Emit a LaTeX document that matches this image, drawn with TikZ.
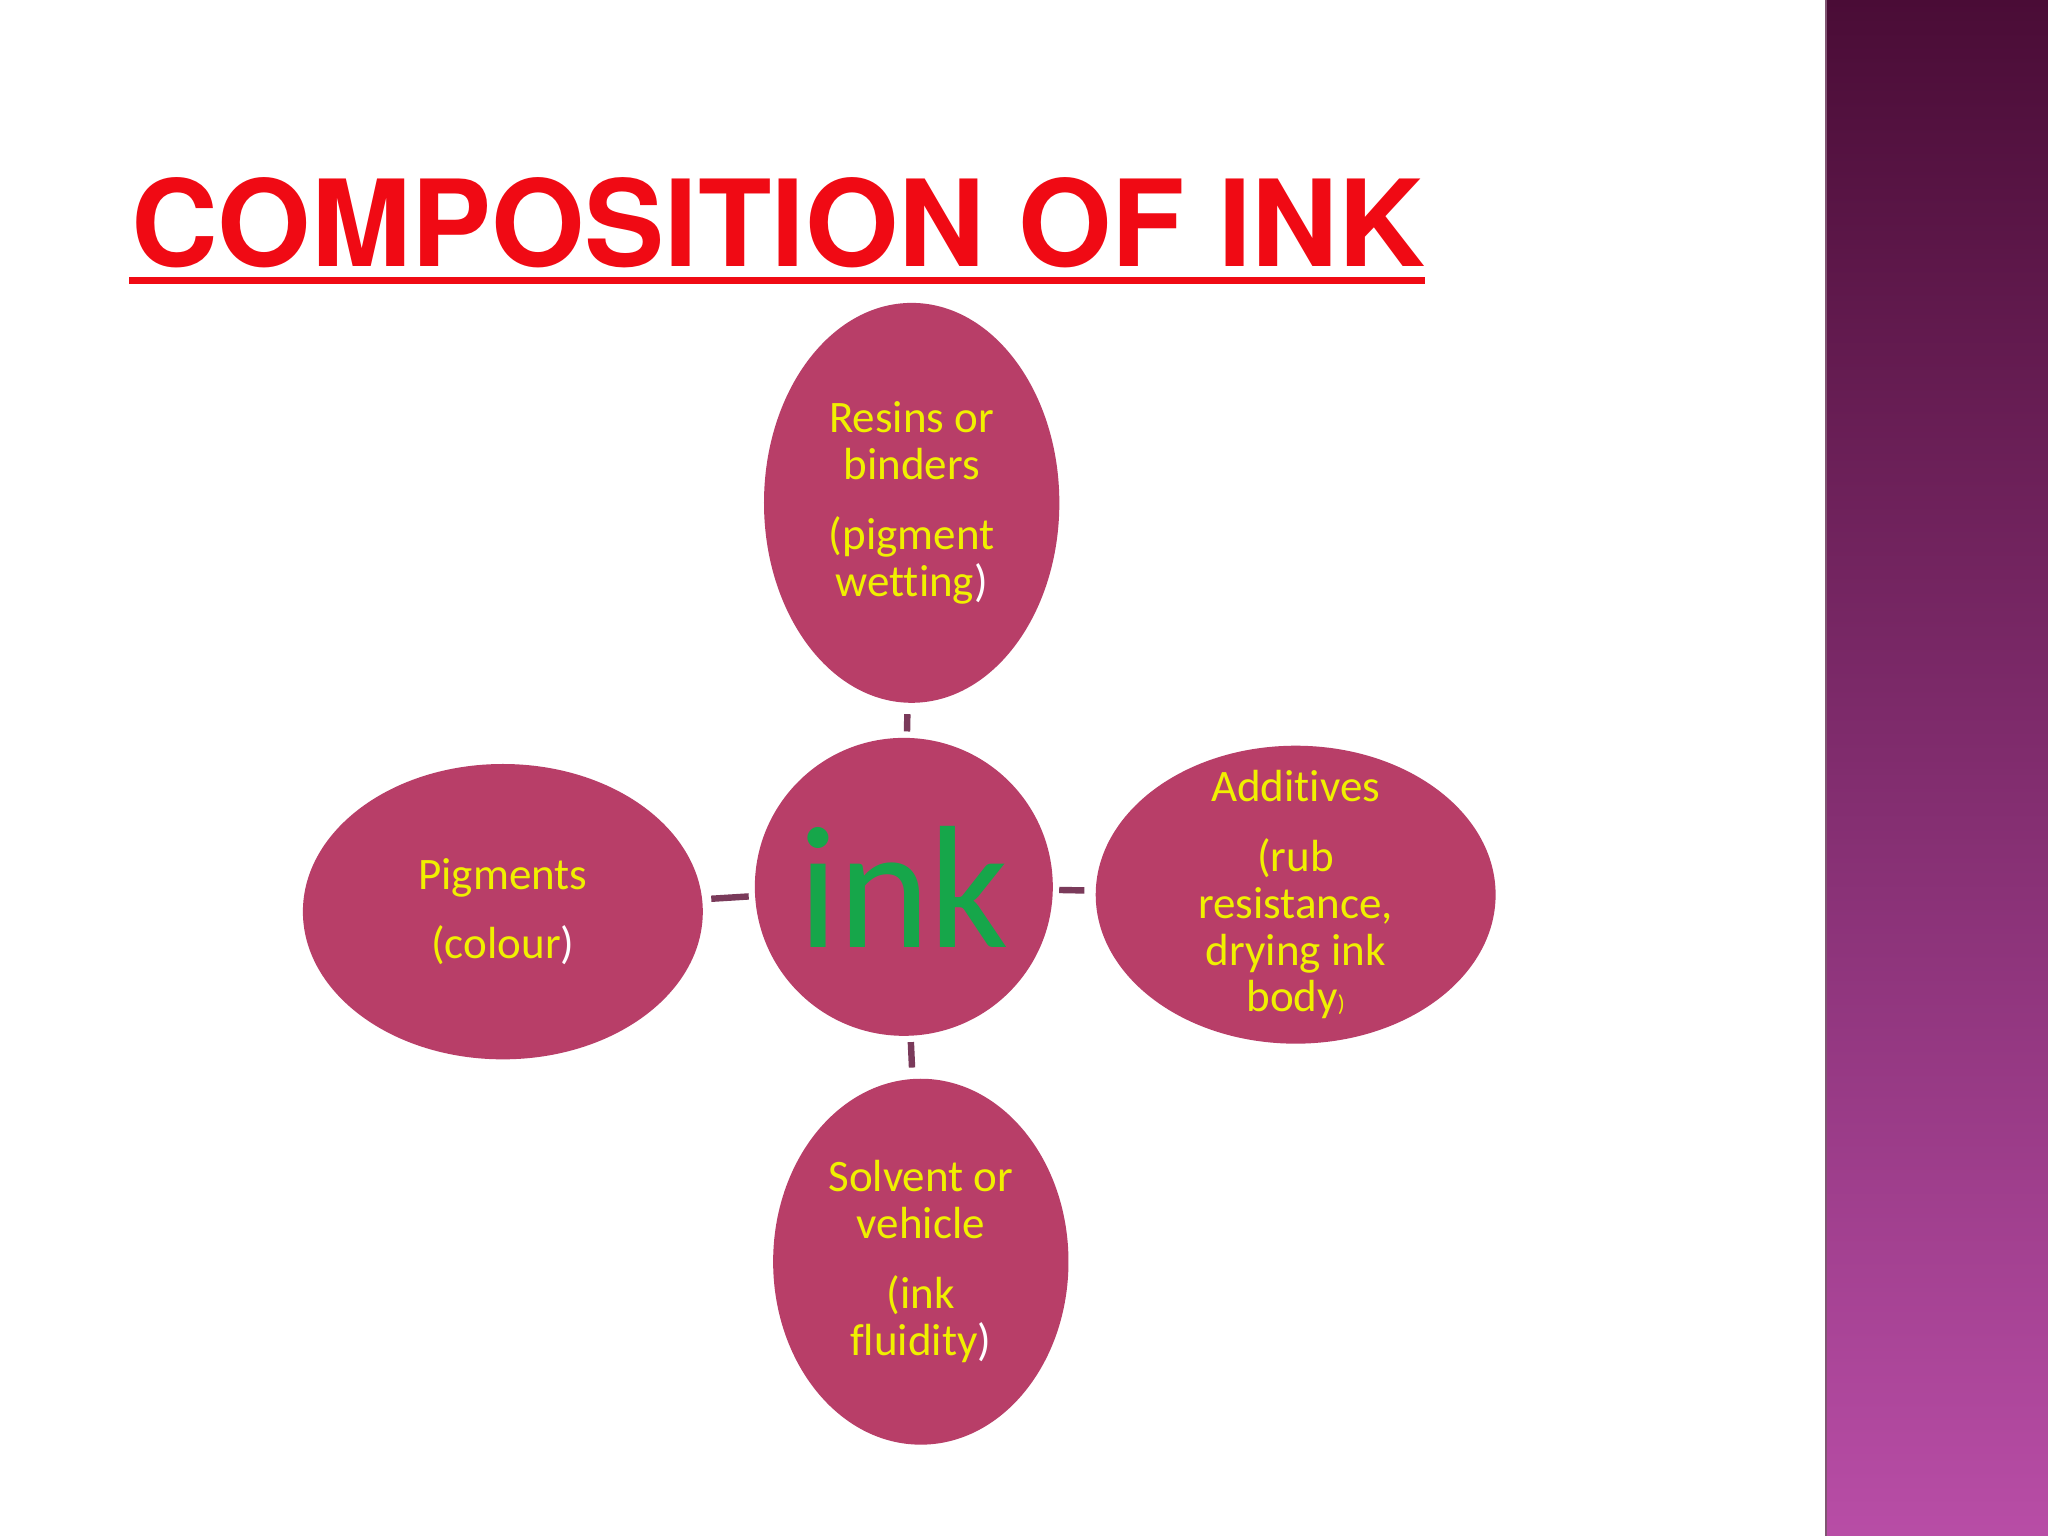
\documentclass[tikz,border=0pt]{standalone}
\usepackage{fontspec}
\setmainfont{Carlito}[Ligatures={NoCommon}]
\newfontfamily\titlefont{TeX Gyre Heros}
\usetikzlibrary{shapes.geometric}
\definecolor{blob}{HTML}{B83E68}
\definecolor{txt}{HTML}{F0F000}
\definecolor{inkg}{HTML}{16A64A}
\definecolor{conn}{HTML}{7A3A5A}
\definecolor{stripA}{HTML}{4A0C36}
\definecolor{stripB}{HTML}{B84DA6}
\definecolor{ttl}{HTML}{F00A14}
\begin{document}
\begin{tikzpicture}[x=0.01cm,y=-0.01cm,
  blobst/.style={ellipse,fill=blob,inner sep=0pt},
  lbl/.style={text=txt,align=center,inner sep=0pt,font=\fontsize{9.8}{10.2}\selectfont},
  link/.style={draw=conn,line width=1.4pt}]
\useasboundingbox (0,0) rectangle (1568,1176);
\fill[white] (0,0) rectangle (1568,1176);
\shade[top color=stripA,bottom color=stripB] (1398,0) rectangle (1568,1176);
\draw[stripA!70,line width=0.4pt] (1398,0) -- (1398,1176);
\node[anchor=base west,inner sep=0pt,text=ttl,font=\titlefont\bfseries\fontsize{27}{30}\selectfont] (title) at (100,204) {\resizebox{9.9cm}{!}{COMPOSITION OF INK}};
\draw[ttl,line width=1.6pt] (99,215) -- (1091,215);
\node[circle,fill=blob,minimum size=2.28cm,inner sep=0pt,text=inkg,font=\fontsize{38}{40}\selectfont] (ink) at (692,679) {ink};
\node[blobst,minimum width=2.26cm,minimum height=3.06cm] (top) at (698,385) {};
\node[blobst,minimum width=3.06cm,minimum height=2.26cm] (left) at (385,698) {};
\node[blobst,minimum width=3.06cm,minimum height=2.28cm] (right) at (992,685) {};
\node[blobst,minimum width=2.26cm,minimum height=2.8cm] (bot) at (705,966) {};
\node[lbl] (toptxt) at (top) {Resins or\\binders\\[5pt](pigment\\wetting\textcolor{white}{)}};
\node[lbl] (lefttxt) at (left) {Pigments\\[5pt](colour\textcolor{white}{)}};
\node[lbl] (righttxt) at (right) {Additives\\[5pt](rub\\resistance,\\drying ink\\body{\tiny)}};
\node[lbl] (bottxt) at (bot) {Solvent or\\vehicle\\[5pt](ink\\fluidity\textcolor{white}{)}};
\draw[link,shorten <=1.2pt,shorten >=2.3pt] (ink) -- (top);
\draw[link,shorten <=1.2pt,shorten >=1.8pt] (ink) -- (left);
\draw[link,shorten <=1.2pt,shorten >=2.3pt] (ink) -- (right);
\draw[link,shorten <=1.2pt,shorten >=2.3pt] (ink) -- (bot);
\end{tikzpicture}
\end{document}
